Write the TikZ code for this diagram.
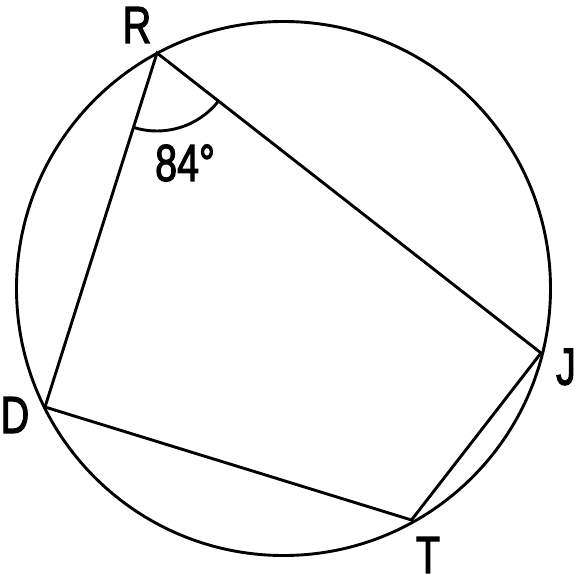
\documentclass[tikz,border=0pt]{standalone}
\usepackage{fontspec}
\setmainfont{Liberation Sans}
\newfontfamily\lblfont[FakeBold=2.5]{Liberation Sans}
\usetikzlibrary{calc}
\begin{document}
\begin{tikzpicture}[x=1pt,y=-1pt, line width=2.9pt, line join=miter,
  lbl/.style={font=\lblfont\fontsize{52}{52}\selectfont, xscale=0.76, inner sep=0pt}]
\useasboundingbox (0,0) rectangle (580,588);
\coordinate (O) at (283.5,288.5);
\coordinate (R) at (157,53);
\coordinate (J) at (541,353);
\coordinate (T) at (411.5,520);
\coordinate (D) at (45,407);
\draw (O) circle[radius=267pt];
\draw (R) -- (J) -- (T) -- (D) -- cycle;
\draw let \p1=($(D)-(R)$), \p2=($(J)-(R)$), \n1={atan2(\y1,\x1)}, \n2={atan2(\y2,\x2)} in
  ($(R)!78pt!(D)$) arc[start angle=\n1, end angle=\n2, radius=78pt];
\node[lbl] (lR) at (137,25) {R};
\node[lbl] (lD) at (15,415) {D};
\node[lbl] (lJ) at (566,367) {J};
\node[lbl] (lT) at (428,555) {T};
\node[lbl] (ang) at (185,163) {84°};
\end{tikzpicture}
\end{document}
